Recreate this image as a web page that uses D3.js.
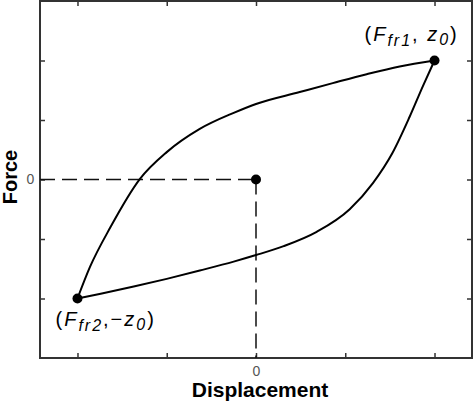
<!DOCTYPE html>
<html lang="en">
<head>
  <meta charset="UTF-8" />
  <title>Force vs Displacement hysteresis loop</title>
  <script src="https://d3js.org/d3.v7.min.js"></script>
  <style>
    body {
      margin: 0;
      background: #fff;
      font-family: "Liberation Sans", Arial, sans-serif;
    }
    svg { display: block; }
  </style>
</head>
<body>
<svg width="474" height="402"></svg>

<script>
  // loop (displacement / force in tick units)
  const upperX = [-2, -1.86, -1.63, -1.30, -1.0, -0.63, -0.25, 0.0, 0.49, 0.86, 1.24, 1.61, 2];
  const upperY = [-2, -1.47, -0.80, 0.01, 0.46, 0.85, 1.12, 1.27, 1.47, 1.62, 1.77, 1.90, 2];
  const lowerX = [-2, -1.74, -1.37, -1.0, -0.63, -0.25, 0.0, 0.31, 0.68, 1.05, 1.31, 1.53, 1.72, 1.87, 2];
  const lowerY = [-2, -1.92, -1.80, -1.67, -1.53, -1.38, -1.27, -1.12, -0.88, -0.50, -0.06, 0.45, 1.05, 1.57, 2];

  const xTicks = [-2, -1, 0, 1, 2];
  const yTicks = [-2, -1, 0, 1, 2];

  // marked points
  const endPoints = [
    { x: 2, y: 2, label: "fr1", neg: false },
    { x: -2, y: -2, label: "fr2", neg: true }
  ];
  const origin = { x: 0, y: 0 };

  const svg = d3.select("svg");
  const mLeft = 40, mRight = 472, mTop = 1, mBottom = 358;

  const x = d3.scaleLinear().domain([-2.42, 2.42]).range([mLeft, mRight]);
  const y = d3.scaleLinear().domain([-3, 3]).range([mBottom, mTop]);

  const zeroOnly = d => d === 0 ? "0" : "";

  // axes on all four sides, ticks pointing inward
  const axes = [
    svg.append("g").attr("transform", `translate(0,${mBottom})`)
      .call(d3.axisBottom(x).tickValues(xTicks).tickSize(-5).tickFormat(zeroOnly)),
    svg.append("g").attr("transform", `translate(0,${mTop})`)
      .call(d3.axisTop(x).tickValues(xTicks).tickSize(-5).tickFormat("")),
    svg.append("g").attr("transform", `translate(${mLeft},0)`)
      .call(d3.axisLeft(y).tickValues(yTicks).tickSize(-5).tickFormat(zeroOnly)),
    svg.append("g").attr("transform", `translate(${mRight},0)`)
      .call(d3.axisRight(y).tickValues(yTicks).tickSize(-5).tickFormat(""))
  ];
  axes.forEach(a => {
    a.select(".domain").remove();
    a.selectAll(".tick line").attr("stroke", "#333").attr("stroke-width", 1.5);
    a.selectAll(".tick text")
      .attr("font-family", "Liberation Sans, Arial, sans-serif")
      .attr("font-size", 14)
      .attr("fill", "#555");
  });
  axes[0].selectAll(".tick text").attr("dy", "1.1em");
  axes[2].selectAll(".tick text").attr("dx", "-0.2em");

  svg.append("rect")
    .attr("x", mLeft).attr("y", mTop)
    .attr("width", mRight - mLeft).attr("height", mBottom - mTop)
    .attr("fill", "none")
    .attr("stroke", "#333")
    .attr("stroke-width", 2);

  // dashed guides to the origin point
  svg.append("line")
    .attr("x1", x(-2.42)).attr("y1", y(origin.y))
    .attr("x2", x(origin.x)).attr("y2", y(origin.y))
    .attr("stroke", "#111").attr("stroke-width", 1.5)
    .attr("stroke-dasharray", "15,7");
  svg.append("line")
    .attr("x1", x(origin.x)).attr("y1", y(origin.y))
    .attr("x2", x(origin.x)).attr("y2", y(-3))
    .attr("stroke", "#111").attr("stroke-width", 1.5)
    .attr("stroke-dasharray", "15,7");

  const line = d3.line().x(d => x(d[0])).y(d => y(d[1])).curve(d3.curveMonotoneX);

  svg.append("path")
    .datum(upperX.map((v, i) => [v, upperY[i]]))
    .attr("d", line)
    .attr("fill", "none").attr("stroke", "#000").attr("stroke-width", 2);
  svg.append("path")
    .datum(lowerX.map((v, i) => [v, lowerY[i]]))
    .attr("d", line)
    .attr("fill", "none").attr("stroke", "#000").attr("stroke-width", 2);

  svg.selectAll("circle.pt")
    .data(endPoints.concat([origin]))
    .enter().append("circle")
    .attr("cx", d => x(d.x)).attr("cy", d => y(d.y))
    .attr("r", 5).attr("fill", "#000");

  // point labels like (F_fr1, z_0)
  function pointLabel(px, py, sub, neg) {
    const t = svg.append("text")
      .attr("x", px).attr("y", py)
      .attr("font-family", "Liberation Sans, Arial, sans-serif")
      .attr("font-size", 20)
      .attr("letter-spacing", 2)
      .attr("fill", "#000");
    t.append("tspan").text("(");
    t.append("tspan").attr("font-style", "italic").text("F");
    t.append("tspan").attr("font-style", "italic").attr("font-size", 16).attr("dy", 5).text(sub);
    t.append("tspan").attr("dy", -5).text(neg ? "," : ", ");
    if (neg) t.append("tspan").text("\u2212");
    t.append("tspan").attr("font-style", "italic").text("z");
    t.append("tspan").attr("font-style", "italic").attr("font-size", 16).attr("dy", 4).text("0");
    t.append("tspan").attr("dy", -4).text(")");
  }
  pointLabel(x(2) - 70, y(2) - 20, endPoints[0].label, false);
  pointLabel(x(-2) - 22, y(-2) + 27, endPoints[1].label, true);

  svg.append("text")
    .attr("transform", `translate(17,177) rotate(-90)`)
    .attr("text-anchor", "middle")
    .attr("font-family", "Liberation Sans, Arial, sans-serif")
    .attr("font-size", 20).attr("font-weight", "bold")
    .text("Force");

  svg.append("text")
    .attr("x", x(0) + 4).attr("y", 397)
    .attr("text-anchor", "middle")
    .attr("font-family", "Liberation Sans, Arial, sans-serif")
    .attr("font-size", 21).attr("font-weight", "bold")
    .text("Displacement");
</script>
</body>
</html>
